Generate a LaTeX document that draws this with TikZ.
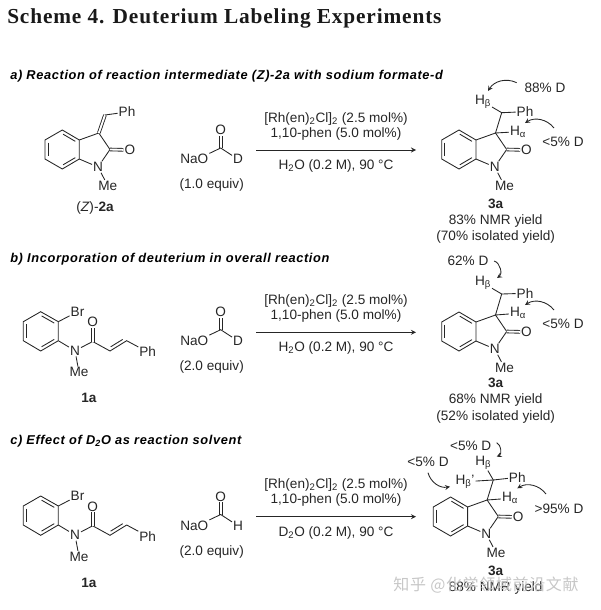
\documentclass[tikz,border=0pt]{standalone}
\usepackage{fontspec}
\setmainfont{Liberation Sans}
\newfontfamily\titlefont[LetterSpace=4]{Liberation Serif}
\newfontfamily\headfont[LetterSpace=5]{Liberation Sans}
\newfontfamily\markfont[LetterSpace=4]{Noto Sans CJK SC}
\usetikzlibrary{calc}
\tikzset{
  bond/.style={line width=0.65pt,black!85},
  atom/.style={inner sep=0.6pt,text=black!85,font=\fontsize{10.2}{12}\selectfont},
  plain/.style={inner sep=0pt,text=black!85,font=\fontsize{10.2}{12}\selectfont,align=center},
  head/.style={inner sep=0pt,anchor=west,text=black,font=\headfont\bfseries\itshape\fontsize{9.6}{12}\selectfont},
  curl/.style={line width=0.65pt,black!85,-stealth},
  rxn/.style={line width=0.7pt,black!85,-stealth},
}
% second stroke of a double bond, on the right of the way from #1 to #2
\newcommand{\dbl}[2]{\draw[bond] ($(#1)!.14!(#2)!2.4pt!90:(#2)$) -- ($(#2)!.14!(#1)!2.4pt!-90:(#1)$);}
% indolinone core, origin on the ring fusion carbon
\newcommand{\oxindole}[3]{
\begin{scope}[shift={(#2,#3)},name prefix=#1-]
\coordinate (r1) at (-34.3,0);
\coordinate (r2) at (-17,-10);
\coordinate (r3) at (0,0);
\coordinate (r4) at (0,19);
\coordinate (r5) at (-17,29);
\coordinate (r6) at (-34.3,19);
\coordinate (c3) at (19.5,-7);
\coordinate (c2) at (30.7,9.5);
\node[atom] (N) at (18.7,27) {N};
\node[atom] (O) at (50.5,10) {O};
\node[atom] (Me) at (28.5,45.7) {Me};
\draw[bond] (r1) -- (r2) -- (r3) -- (r4) -- (r5) -- (r6) -- cycle;
\dbl{r1}{r6}
\dbl{r3}{r2}
\dbl{r5}{r4}
\draw[bond] (r3) -- (c3) -- (c2) -- (N) -- (r4);
\draw[bond,double,double distance=1.4pt] (c2) -- (O);
\draw[bond] (N) -- (Me);
\end{scope}
}
% bromoanilide arm
\newcommand{\anilide}[3]{
\begin{scope}[shift={(#2,#3)},name prefix=#1-]
\coordinate (r1) at (23.3,321.7);
\coordinate (r2) at (40.7,311.7);
\coordinate (r3) at (58.3,321.7);
\coordinate (r4) at (58.3,340.7);
\coordinate (r5) at (40.7,351);
\coordinate (r6) at (23.3,340.7);
\coordinate (co) at (92.7,341.5);
\coordinate (ca) at (110,351);
\coordinate (cb) at (126.7,340.7);
\node[atom] (Br) at (77.5,311.7) {Br};
\node[atom] (N) at (75,350.7) {N};
\node[atom] (Me) at (79,372.3) {Me};
\node[atom] (O) at (92.7,322.3) {O};
\node[atom] (Ph) at (147.7,352) {Ph};
\node[plain,font=\fontsize{10.2}{12}\selectfont\bfseries] (lab) at (89,398.3) {1a};
\draw[bond] (r1) -- (r2) -- (r3) -- (r4) -- (r5) -- (r6) -- cycle;
\dbl{r1}{r6}
\dbl{r3}{r2}
\dbl{r5}{r4}
\draw[bond] (r3) -- (Br);
\draw[bond] (r4) -- (N) -- (co) -- (ca) -- (cb) -- (Ph);
\draw[bond] (N) -- (Me);
\draw[bond,double,double distance=1.4pt] (co) -- (O);
\dbl{ca}{cb}
\end{scope}
}
% formate salt
\newcommand{\formate}[4]{
\begin{scope}[shift={(0,#2)},name prefix=#1-]
\coordinate (c) at (220.7,148);
\node[atom] (O) at (220.7,130) {O};
\node[atom] (NaO) at (194.3,159.3) {NaO};
\node[atom] (X) at (238,159.3) {#3};
\node[plain] (eq) at (211.7,185) {(#4 equiv)};
\draw[bond,double,double distance=1.4pt] (c) -- (O);
\draw[bond] (NaO.north east) -- (c) -- (X);
\end{scope}
}
% arrow with its conditions
\newcommand{\conditions}[3]{
\begin{scope}[shift={(0,#2)},name prefix=#1-]
\coordinate (s) at (256,150);
\coordinate (t) at (416,150);
\node[plain] (cat) at (336,118.5) {[Rh(en)\textsubscript{2}Cl]\textsubscript{2} (2.5 mol\%)};
\node[plain] (lig) at (336,133.5) {1,10-phen (5.0 mol\%)};
\node[plain] (sol) at (336,166) {#3\textsubscript{2}O (0.2 M), 90 °C};
\draw[rxn] (s) -- (t);
\end{scope}
}
\begin{document}
\begin{tikzpicture}[x=0.75pt,y=-0.75pt]
\useasboundingbox (0,0) rectangle (600,610);
\node[inner sep=0pt,anchor=west,text=black!90,font=\titlefont\bfseries\fontsize{16}{18}\selectfont] (title) at (7,18) {Scheme 4. Deuterium Labeling Experiments};
\node[head] (heada) at (10,76) {a) Reaction of reaction intermediate (Z)-2a with sodium formate-d};
\node[head] (headb) at (10,259) {b) Incorporation of deuterium in overall reaction};
\node[head] (headc) at (10,441) {c) Effect of D\textsubscript{2}O as reaction solvent};

% a
\oxindole{za}{79.3}{140}
\coordinate (zch) at (105,115);
\node[atom] (zph) at (127,112) {Ph};
\draw[bond,double,double distance=1.4pt] (za-c3) -- (zch);
\draw[bond] (zch) -- (zph);
\node[plain] (zlab) at (95,208) {(\textit{Z})-\textbf{2a}};
\formate{fa}{0}{D}{1.0}
\conditions{ca}{0}{H}
\oxindole{pa}{476}{140}
\coordinate (pach) at (501.7,112.7);
\node[atom] (pahb) at (483,101.7) {H\textsubscript{β}};
\node[atom] (paph) at (525,111.7) {Ph};
\node[atom] (paha) at (518,131.7) {H\textsubscript{α}};
\draw[bond] (pa-c3) -- (pach) -- (pahb);
\draw[bond] (pach) -- (paph);
\draw[bond] (pa-c3) -- (paha);
\node[plain] (palab) at (495.7,204) {\textbf{3a}};
\node[plain] (payld) at (495.7,221) {83\% NMR yield};
\node[plain] (paiso) at (495.7,236.7) {(70\% isolated yield)};
\node[plain] (paD) at (545,88) {88\% D};
\node[plain] (paE) at (563,141.7) {<5\% D};
\coordinate (pac1) at (516.7,82.7);
\coordinate (pac2) at (488,91);
\coordinate (pac3) at (554,128);
\coordinate (pac4) at (525,123);
\draw[curl] (pac1) to[bend right=42] (pac2);
\draw[curl] (pac3) to[bend right=42] (pac4);

% b
\anilide{sb}{0}{0}
\formate{fb}{181.7}{D}{2.0}
\conditions{cb}{182.3}{H}
\oxindole{pb}{476}{322}
\coordinate (pbch) at (501.7,294);
\node[atom] (pbhb) at (483,283) {H\textsubscript{β}};
\node[atom] (pbph) at (525,293.3) {Ph};
\node[atom] (pbha) at (518,313.3) {H\textsubscript{α}};
\draw[bond] (pb-c3) -- (pbch) -- (pbhb);
\draw[bond] (pbch) -- (pbph);
\draw[bond] (pb-c3) -- (pbha);
\node[plain] (pblab) at (495.7,383) {\textbf{3a}};
\node[plain] (pbyld) at (495.7,400) {68\% NMR yield};
\node[plain] (pbiso) at (495.7,416.7) {(52\% isolated yield)};
\node[plain] (pbD) at (468,261) {62\% D};
\node[plain] (pbE) at (563,324) {<5\% D};
\coordinate (pbc1) at (494,261);
\coordinate (pbc2) at (497,278);
\coordinate (pbc3) at (554,310);
\coordinate (pbc4) at (525,305);
\draw[curl] (pbc1) to[bend left=65] (pbc2);
\draw[curl] (pbc3) to[bend right=42] (pbc4);

% c
\anilide{sc}{0}{184.3}
\formate{fc}{366.5}{H}{2.0}
\conditions{cc}{366.7}{D}
\oxindole{pc}{467.6}{507}
\coordinate (pcch) at (493.3,480);
\node[atom] (pchb) at (483.3,462.7) {H\textsubscript{β}};
\node[atom] (pchc) at (465,481.7) {H\textsubscript{β}'};
\node[atom] (pcph) at (517.3,477.3) {Ph};
\node[atom] (pcha) at (510,498.3) {H\textsubscript{α}};
\draw[bond] (pc-c3) -- (pcch) -- (pchb);
\draw[bond] (pcch) -- (pchc);
\draw[bond] (pcch) -- (pcph);
\draw[bond] (pc-c3) -- (pcha);
\node[plain] (pclab) at (495.7,570.5) {\textbf{3a}};
\node[plain] (pcyld) at (495.7,588) {88\% NMR yield};
\node[plain] (pcD) at (470.7,445.7) {<5\% D};
\node[plain] (pcE) at (428,461.7) {<5\% D};
\node[plain] (pcF) at (559,509) {>95\% D};
\coordinate (pcc1) at (496.7,442.7);
\coordinate (pcc2) at (496.7,456.7);
\coordinate (pcc3) at (428,472.7);
\coordinate (pcc4) at (450,486.7);
\coordinate (pcc5) at (546,494);
\coordinate (pcc6) at (517.3,488.3);
\draw[curl] (pcc1) to[bend left=65] (pcc2);
\draw[curl] (pcc3) to[bend right=42] (pcc4);
\draw[curl] (pcc5) to[bend right=42] (pcc6);

\node[inner sep=0pt,text=black!22,font=\markfont\fontsize{12}{14}\selectfont] (mark) at (486,585.5) {知乎 @化学领域前沿文献};
\end{tikzpicture}
\end{document}
